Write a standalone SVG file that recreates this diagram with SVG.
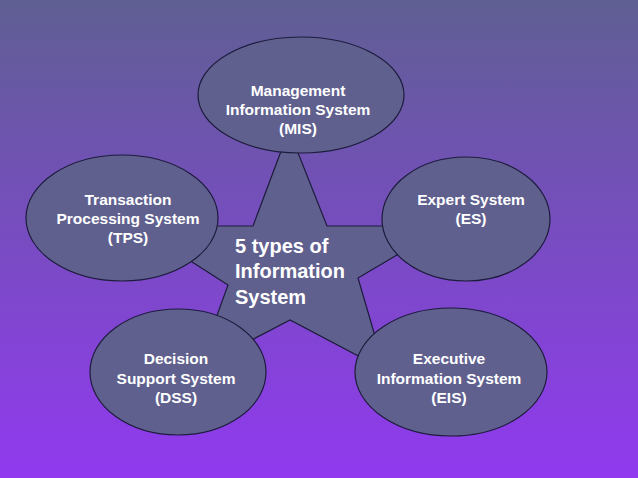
<svg xmlns="http://www.w3.org/2000/svg" width="638" height="478" viewBox="0 0 638 478">
<defs><linearGradient id="bg" x1="0" y1="0" x2="0" y2="1"><stop offset="0" stop-color="#5f5f93"/><stop offset="1" stop-color="#9139ef"/></linearGradient></defs>
<style>
.n{fill:#60608f;stroke:#1c1c3c;stroke-width:1.2}
.t{fill:#fff;font-family:"Liberation Sans",Arial,sans-serif;font-weight:bold;font-size:15.5px;text-anchor:middle}
.c{fill:#fff;font-family:"Liberation Sans",Arial,sans-serif;font-weight:bold;font-size:20px}
</style>
<rect width="638" height="478" fill="url(#bg)"/>
<g id="star"><polygon class="n" points="289,130 327,226 446,226 358,278 385,370 290,320 198,368 228,285 136,226 253,226"/>
<text class="c" x="235" y="253">5 types of</text><text class="c" x="235" y="278">Information</text><text class="c" x="235" y="304">System</text></g>
<g id="connectors"></g>
<g id="mis"><ellipse class="n" cx="301" cy="95" rx="103" ry="58"/><text class="t" x="298" y="96">Management</text><text class="t" x="298" y="115">Information System</text><text class="t" x="298" y="134">(MIS)</text></g>
<g id="tps"><ellipse class="n" cx="122" cy="218" rx="96" ry="63"/><text class="t" x="128" y="205">Transaction</text><text class="t" x="128" y="224">Processing System</text><text class="t" x="128" y="243">(TPS)</text></g>
<g id="es"><ellipse class="n" cx="466" cy="219" rx="84" ry="62"/><text class="t" x="471" y="205">Expert System</text><text class="t" x="471" y="224">(ES)</text></g>
<g id="dss"><ellipse class="n" cx="178" cy="372" rx="88" ry="63"/><text class="t" x="176" y="364">Decision</text><text class="t" x="176" y="384">Support System</text><text class="t" x="176" y="403">(DSS)</text></g>
<g id="eis"><ellipse class="n" cx="451" cy="372" rx="96" ry="64"/><text class="t" x="449" y="364">Executive</text><text class="t" x="449" y="384">Information System</text><text class="t" x="449" y="403">(EIS)</text></g>
</svg>
